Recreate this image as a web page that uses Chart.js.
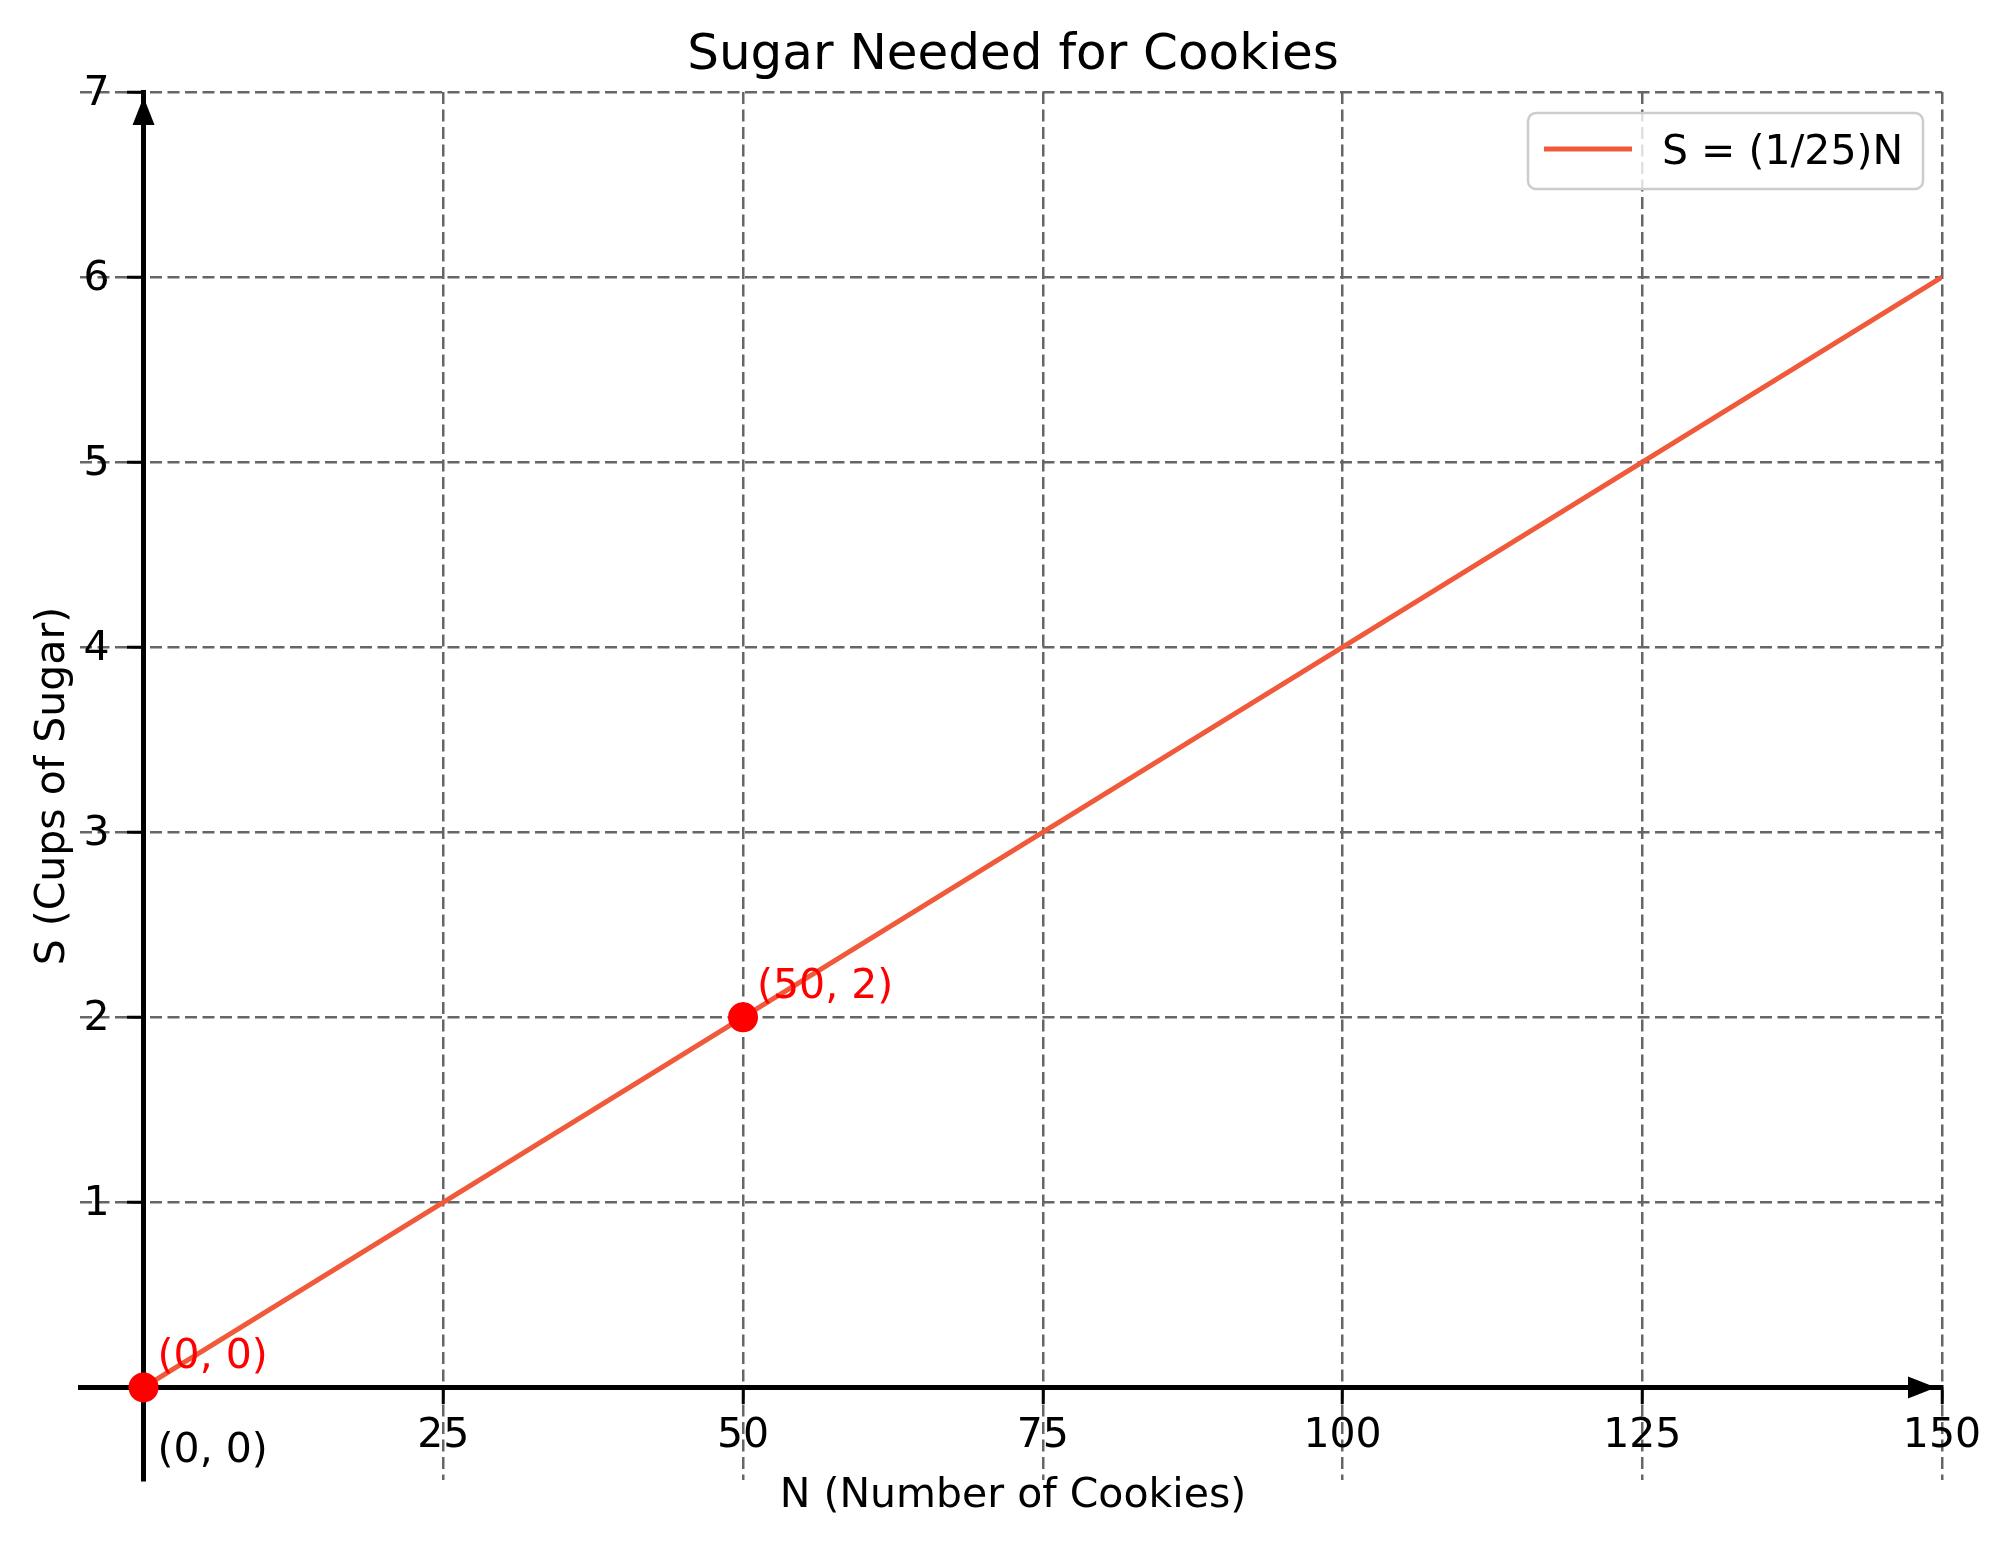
<!DOCTYPE html>
<html>
<head>
<meta charset="utf-8">
<title>Sugar Needed for Cookies</title>
<script src="https://cdn.jsdelivr.net/npm/chart.js@4.4.1/dist/chart.umd.min.js"></script>
<style>
    html, body { margin: 0; padding: 0; background: #fff; }
    #wrap { width: 2014px; height: 1546px; }
</style>
</head>
<body>
<div id="wrap"><canvas id="sugarChart" width="2014" height="1546"></canvas></div>
<script>
// ── Data ───────────────────────────────────────────────
var lineN = [0, 150];          // S = (1/25)N, end points
var lineS = [0, 6];
var markN = [0, 50];           // highlighted points
var markS = [0, 2];
var markLabels = ['(0, 0)', '(50, 2)'];
var originLabel = '(0, 0)';
var xTicks = [25, 50, 75, 100, 125, 150];
var yTicks = [1, 2, 3, 4, 5, 6, 7];
var xRange = [-5.3, 150];
var yRange = [-0.5, 7];

var chartTitle = 'Sugar Needed for Cookies';
var xTitle = 'N (Number of Cookies)';
var yTitle = 'S (Cups of Sugar)';
var seriesLabel = 'S = (1/25)N';

// ── Shared styles ──────────────────────────────────────
var fontFamily = '"DejaVu Sans", sans-serif';
var colorLine = '#f05a3a';
var colorMark = '#ff0000';
var colorGrid = '#666666';

Chart.defaults.font.family = fontFamily;
Chart.defaults.color = '#000';

function toPoints(xs, ys) {
    return xs.map(function (x, i) { return { x: x, y: ys[i] }; });
}

// ── Arrows, y tick labels, annotations, titles, legend ─
var overlayPlugin = {
    id: 'overlay',
    afterDraw: function (chart) {
        var ctx = chart.ctx, area = chart.chartArea;
        var xs = chart.scales.x, ys = chart.scales.y;
        var x0 = xs.getPixelForValue(0), y0 = ys.getPixelForValue(0);

        ctx.save();

        // axis arrow heads
        ctx.fillStyle = '#000';
        var tipX = area.right - 6;
        ctx.beginPath();
        ctx.moveTo(tipX, y0);
        ctx.lineTo(tipX - 28, y0 - 11);
        ctx.lineTo(tipX - 28, y0 + 11);
        ctx.closePath();
        ctx.fill();
        var tipY = area.top + 5;
        ctx.beginPath();
        ctx.moveTo(x0, tipY);
        ctx.lineTo(x0 - 11, tipY + 28);
        ctx.lineTo(x0 + 11, tipY + 28);
        ctx.closePath();
        ctx.fill();

        // y tick labels, left of the spine at N = 0
        ctx.font = '41px ' + fontFamily;
        ctx.textAlign = 'right';
        ctx.textBaseline = 'middle';
        yTicks.forEach(function (v) {
            ctx.fillText(String(v), x0 - 34, ys.getPixelForValue(v) + 2);
        });

        // point annotations
        ctx.textAlign = 'left';
        ctx.textBaseline = 'alphabetic';
        ctx.fillStyle = colorMark;
        markN.forEach(function (n, i) {
            ctx.fillText(markLabels[i], xs.getPixelForValue(n) + 14, ys.getPixelForValue(markS[i]) - 19);
        });
        ctx.fillStyle = '#000';
        ctx.fillText(originLabel, x0 + 14, y0 + 75);

        // titles
        var cx = (area.left + area.right) / 2;
        ctx.textAlign = 'center';
        ctx.font = '50px ' + fontFamily;
        ctx.fillText(chartTitle, cx + 2, 69);
        ctx.font = '41px ' + fontFamily;
        ctx.fillText(xTitle, cx + 2, 1507);
        ctx.save();
        ctx.translate(64, (area.top + area.bottom) / 2);
        ctx.rotate(-Math.PI / 2);
        ctx.fillText(yTitle, 0, 0);
        ctx.restore();

        // legend box
        var lx = 1528, ly = 113, lw = 395, lh = 76, r = 8;
        ctx.beginPath();
        ctx.moveTo(lx + r, ly);
        ctx.arcTo(lx + lw, ly, lx + lw, ly + lh, r);
        ctx.arcTo(lx + lw, ly + lh, lx, ly + lh, r);
        ctx.arcTo(lx, ly + lh, lx, ly, r);
        ctx.arcTo(lx, ly, lx + lw, ly, r);
        ctx.closePath();
        ctx.fillStyle = 'rgba(255,255,255,0.8)';
        ctx.fill();
        ctx.strokeStyle = '#cccccc';
        ctx.lineWidth = 2.5;
        ctx.stroke();
        ctx.strokeStyle = colorLine;
        ctx.lineWidth = 5;
        ctx.beginPath();
        ctx.moveTo(1544, 149);
        ctx.lineTo(1632, 149);
        ctx.stroke();
        ctx.fillStyle = '#000';
        ctx.textAlign = 'left';
        ctx.fillText(seriesLabel, 1662, 164);

        ctx.restore();
    }
};

// ── Chart ──────────────────────────────────────────────
var ctxEl = document.getElementById('sugarChart');
new Chart(ctxEl, {
    type: 'scatter',
    data: {
        datasets: [
            {
                label: 'points',
                data: toPoints(markN, markS),
                backgroundColor: colorMark,
                borderWidth: 0,
                pointRadius: 15,
                order: 0
            },
            {
                label: seriesLabel,
                data: toPoints(lineN, lineS),
                showLine: true,
                borderColor: colorLine,
                borderWidth: 5,
                pointRadius: 0,
                order: 1
            }
        ]
    },
    options: {
        responsive: false,
        animation: false,
        events: [],
        layout: { padding: { left: 80, right: 72, top: 92, bottom: 66 } },
        plugins: {
            legend: { display: false },
            title: { display: false },
            tooltip: { enabled: false }
        },
        scales: {
            x: {
                type: 'linear',
                min: xRange[0], max: xRange[1],
                position: { y: 0 },
                afterBuildTicks: function (axis) {
                    axis.ticks = xTicks.map(function (v) { return { value: v }; });
                },
                grid: { color: colorGrid, lineWidth: 2.5, tickLength: 14, tickColor: '#000', tickWidth: 3 },
                border: { display: true, color: '#000', width: 5, dash: [12, 5.5] },
                ticks: {
                    autoSkip: false, maxRotation: 0, padding: 10,
                    font: { size: 41 },
                    callback: function (v) { return String(v); }
                }
            },
            y: {
                type: 'linear',
                min: yRange[0], max: yRange[1],
                position: { x: 0 },
                afterBuildTicks: function (axis) {
                    axis.ticks = yTicks.map(function (v) { return { value: v }; });
                },
                grid: { color: colorGrid, lineWidth: 2.5, tickLength: 14, tickColor: '#000', tickWidth: 3 },
                border: { display: true, color: '#000', width: 5, dash: [12, 5.5] },
                ticks: { display: false }
            }
        }
    },
    plugins: [overlayPlugin]
});
</script>
</body>
</html>
